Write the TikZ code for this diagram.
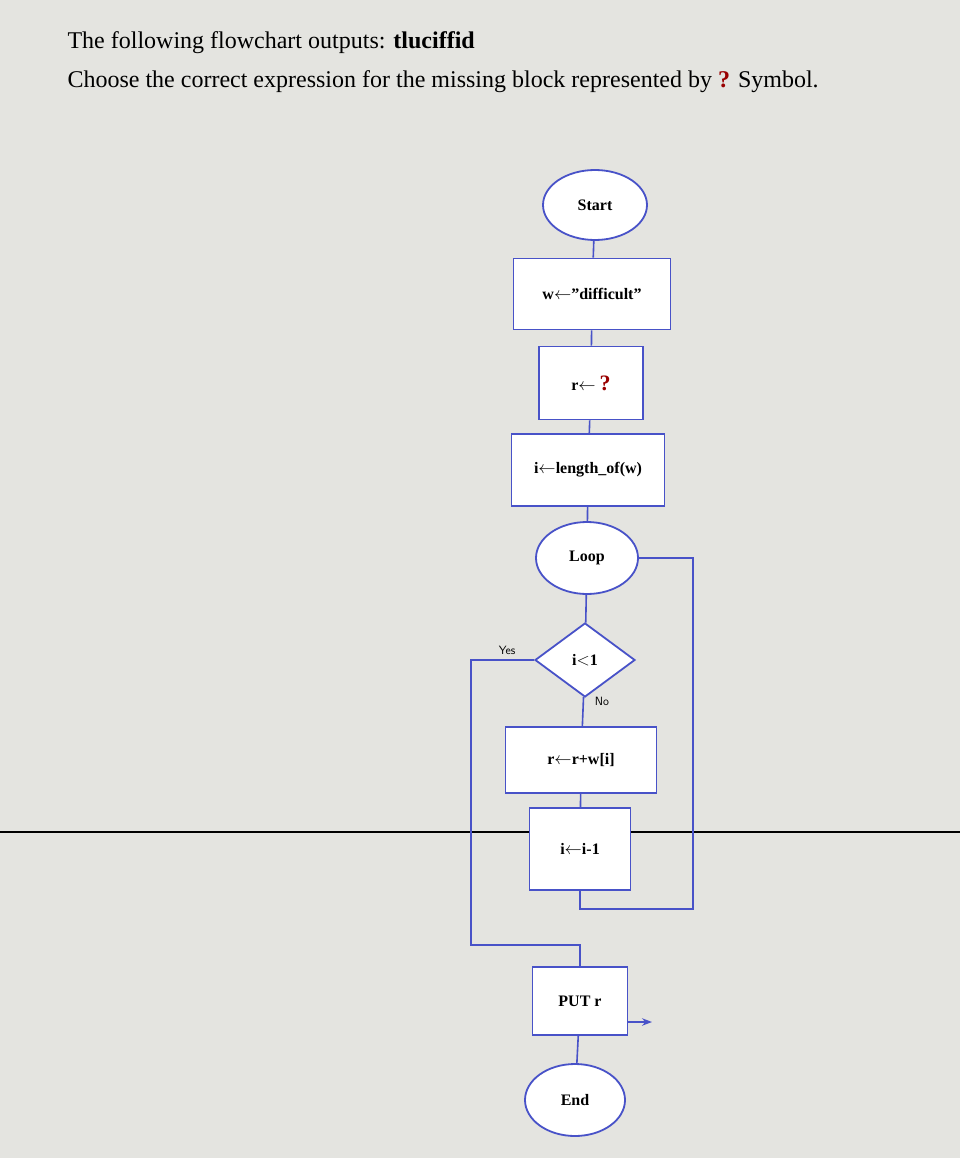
\documentclass[tikz,border=0pt]{standalone}
\usepackage{fontspec}
\setmainfont{Liberation Serif}
\usetikzlibrary{shapes.geometric,arrows.meta}
\definecolor{fc}{RGB}{72,82,200}
\definecolor{bg}{RGB}{228,228,224}
\begin{document}
\begin{tikzpicture}[x=1pt,y=-1pt,
  box/.style={draw=fc,line width=1.8pt,fill=white,minimum width=#1,font=\fontsize{16}{18}\selectfont\bfseries},
  oval/.style={ellipse,draw=fc,line width=1.8pt,fill=white,minimum width=104,minimum height=70,font=\fontsize{16}{18}\selectfont\bfseries},
  ln/.style={draw=fc,line width=1.6pt}]
\fill[bg] (0,0) rectangle (960,1158);
\useasboundingbox (0,0) rectangle (960,1158);
\node[anchor=west,font=\fontsize{24}{28}\selectfont] (t1) at (64,43) {The following flowchart outputs: \textbf{tluciffid}};
\node[anchor=west,font=\fontsize{24}{28}\selectfont] (t2) at (64,82) {Choose the correct expression for the missing block represented by \textcolor{red!60!black}{\textbf{?}} Symbol.};
\draw[black,line width=2pt] (0,832) -- (960,832);
\node[oval] (start) at (595,205) {Start};
\node[box=157,minimum height=71] (w) at (592,294) {w$\leftarrow$"difficult"};
\node[box=104,minimum height=73] (r) at (591,383) {r$\leftarrow$ \textcolor{red!60!black}{\fontsize{22}{24}\selectfont ?}};
\node[box=153,minimum height=72] (i) at (588,470) {i$\leftarrow$length\_of(w)};
\node[oval,minimum width=102,minimum height=72] (loop) at (587,558) {Loop};
\node[diamond,draw=fc,line width=1.8pt,fill=white,minimum width=100,minimum height=74,inner sep=0,font=\fontsize{16}{18}\selectfont\bfseries] (d) at (585,660) {i$<$1};
\node[font=\fontsize{12}{14}\selectfont\sffamily] (yes) at (507,650) {Yes};
\node[font=\fontsize{12}{14}\selectfont\sffamily] (no) at (602,701) {No};
\node[box=151,minimum height=66] (upd) at (581,760) {r$\leftarrow$r+w[i]};
\node[box=101,minimum height=82] (dec) at (580,849) {i$\leftarrow$i-1};
\node[box=95,minimum height=68] (put) at (580,1001) {PUT r};
\node[oval,minimum width=100,minimum height=72] (end) at (575,1100) {End};
\draw[ln] (start) -- (w); \draw[ln] (w) -- (r); \draw[ln] (r) -- (i);
\draw[ln] (i) -- (loop); \draw[ln] (loop) -- (d); \draw[ln] (d) -- (upd);
\draw[ln] (upd) -- (dec); \draw[ln] (put) -- (end);
\draw[ln] (dec.south) -- ++(0,18) -| (693,558) -- (loop.east);
\draw[ln] (d.west) -- (471,660) -- (471,945) -| (put.north);
\coordinate (o) at (652,1022);
\draw[fc,line width=1.4pt,-{Stealth[length=10pt]}] (put.east|-o) -- (o);
\end{tikzpicture}
\end{document}
